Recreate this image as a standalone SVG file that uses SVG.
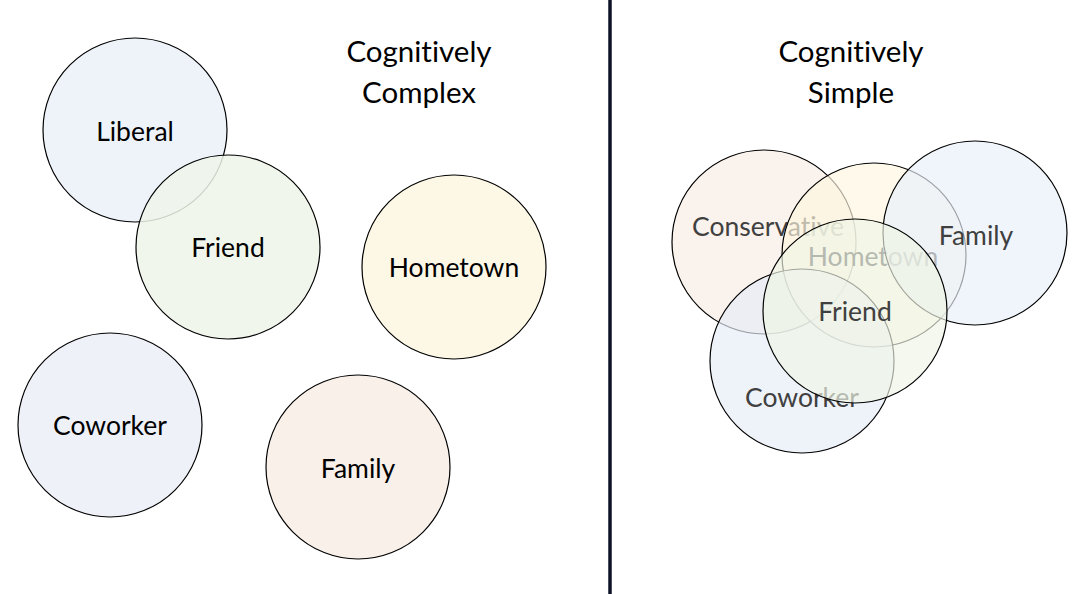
<svg xmlns="http://www.w3.org/2000/svg" width="1088" height="594" viewBox="0 0 1088 594">
<style>
.c{stroke:#000;stroke-width:1.2}
.t{font-family:Lato,"Liberation Sans",sans-serif;font-size:26.5px;text-anchor:middle;fill:#000;font-variant-ligatures:none}
.h{font-family:Lato,"Liberation Sans",sans-serif;font-size:29.5px;text-anchor:middle;fill:#000;font-variant-ligatures:none}
.r{fill-opacity:0.67}
.rt{fill:#404040}
</style>
<rect width="1088" height="594" fill="#fff"/>
<g id="divider"><line x1="610" y1="0" x2="610" y2="594" stroke="#0d1226" stroke-width="3.5"/></g>
<g id="title-complex"><text class="h" x="419" y="62">Cognitively</text><text class="h" x="419" y="103">Complex</text></g>
<g id="title-simple"><text class="h" x="851" y="62">Cognitively</text><text class="h" x="851" y="103">Simple</text></g>
<g id="left-liberal"><circle class="c" cx="135" cy="130" r="92" fill="#eef3fa"/><text class="t" x="135" y="141">Liberal</text></g>
<g id="left-friend"><circle class="c" cx="228" cy="247" r="92" fill="#eff5e9" fill-opacity="0.85"/><text class="t" x="228" y="257">Friend</text></g>
<g id="left-hometown"><circle class="c" cx="454" cy="267" r="92" fill="#fdf8e6"/><text class="t" x="454" y="277">Hometown</text></g>
<g id="left-coworker"><circle class="c" cx="110" cy="425" r="92" fill="#eef1f7"/><text class="t" x="110" y="435">Coworker</text></g>
<g id="left-family"><circle class="c" cx="358" cy="467" r="92" fill="#f9f0ea"/><text class="t" x="358" y="478">Family</text></g>
<g id="right-conservative"><circle class="c r" cx="764" cy="242" r="92" fill="#f7ebe3"/><text class="t rt" x="768" y="236">Conservative</text></g>
<g id="right-hometown"><circle class="c r" cx="874" cy="255" r="92" fill="#fdf6e0"/><text class="t rt" x="873" y="266">Hometown</text></g>
<g id="right-family"><circle class="c r" cx="975" cy="233" r="92" fill="#e9f0fa"/><text class="t rt" x="976" y="245">Family</text></g>
<g id="right-coworker"><circle class="c r" cx="802" cy="361" r="92" fill="#e6ecf6"/><text class="t rt" x="802" y="407">Coworker</text></g>
<g id="right-friend"><circle class="c r" cx="855" cy="311" r="92" fill="#eef5e6"/><text class="t rt" x="855" y="321">Friend</text></g>
</svg>
